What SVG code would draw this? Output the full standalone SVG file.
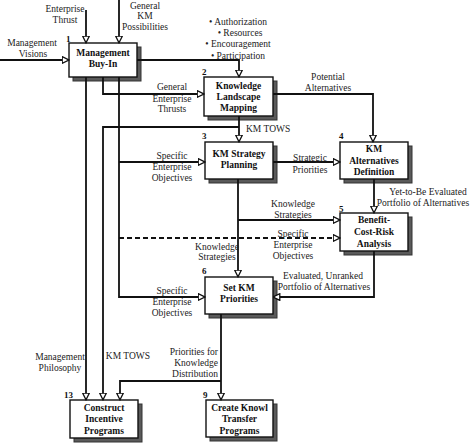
<svg xmlns="http://www.w3.org/2000/svg" width="474" height="443" viewBox="0 0 474 443">
<style>
.lbl{font-family:"Liberation Serif","Times New Roman",serif;font-size:9.5px;fill:#222;text-anchor:middle}
.ttl{font-family:"Liberation Serif","Times New Roman",serif;font-size:9.5px;font-weight:bold;fill:#111;text-anchor:middle}
.num{font-family:"Liberation Serif","Times New Roman",serif;font-size:9px;font-weight:bold;fill:#111}
.box{fill:#fff;stroke:#111;stroke-width:1.4}
.shd{fill:#5a5a5a;stroke:#333;stroke-width:1}
.ln{fill:none;stroke:#111;stroke-width:1.8}
.dash{stroke-dasharray:5,3}
</style>
<defs>
<marker id="arr" viewBox="0 0 8 8" refX="7.5" refY="4" markerWidth="8" markerHeight="8" markerUnits="userSpaceOnUse" orient="auto">
<path d="M0.7,0.7 L7.3,4 L0.7,7.3 z" fill="#fff" stroke="#111" stroke-width="1.3"/>
</marker>
</defs>
<rect width="474" height="443" fill="#fff"/>

<g id="n1"><rect class="shd" x="73" y="47" width="68" height="34"/><rect class="box" x="69" y="43" width="68" height="34"/><text class="num" x="66" y="42">1</text><text class="ttl" x="103" y="56">Management</text><text class="ttl" x="103" y="67">Buy-In</text></g>
<g id="n2"><rect class="shd" x="208" y="81" width="69" height="39"/><rect class="box" x="204" y="77" width="69" height="39"/><text class="num" x="202" y="75">2</text><text class="ttl" x="238.5" y="89">Knowledge</text><text class="ttl" x="238.5" y="100">Landscape</text><text class="ttl" x="238.5" y="111">Mapping</text></g>
<g id="n3"><rect class="shd" x="209" y="146" width="68" height="37"/><rect class="box" x="205" y="142" width="68" height="37"/><text class="num" x="202" y="139">3</text><text class="ttl" x="239" y="157">KM Strategy</text><text class="ttl" x="239" y="168">Planning</text></g>
<g id="n4"><rect class="shd" x="344" y="146" width="68" height="37"/><rect class="box" x="340" y="142" width="68" height="37"/><text class="num" x="339" y="139">4</text><text class="ttl" x="374" y="152">KM</text><text class="ttl" x="374" y="164">Alternatives</text><text class="ttl" x="374" y="175">Definition</text></g>
<g id="n5"><rect class="shd" x="344" y="217" width="68" height="38"/><rect class="box" x="340" y="213" width="68" height="38"/><text class="num" x="339" y="212">5</text><text class="ttl" x="374" y="223">Benefit-</text><text class="ttl" x="374" y="235">Cost-Risk</text><text class="ttl" x="374" y="247">Analysis</text></g>
<g id="n6"><rect class="shd" x="209" y="281" width="68" height="37"/><rect class="box" x="205" y="277" width="68" height="37"/><text class="num" x="202" y="274">6</text><text class="ttl" x="239" y="291">Set KM</text><text class="ttl" x="239" y="302">Priorities</text></g>
<g id="n9"><rect class="shd" x="210" y="404" width="67" height="37"/><rect class="box" x="206" y="400" width="67" height="37"/><text class="num" x="203" y="398">9</text><text class="ttl" x="239.5" y="411">Create Knowl</text><text class="ttl" x="239.5" y="422">Transfer</text><text class="ttl" x="239.5" y="434">Programs</text></g>
<g id="n13"><rect class="shd" x="74" y="404" width="68" height="38"/><rect class="box" x="70" y="400" width="68" height="38"/><text class="num" x="64" y="398">13</text><text class="ttl" x="104" y="411">Construct</text><text class="ttl" x="104" y="422">Incentive</text><text class="ttl" x="104" y="434">Programs</text></g>

<g id="connectors">
<path class="ln" d="M86,10 V43" marker-end="url(#arr)"/>
<path class="ln" d="M119,0 V43" marker-end="url(#arr)"/>
<path class="ln" d="M0,60 H69" marker-end="url(#arr)"/>
<path class="ln" d="M137,60 H239 V77" marker-end="url(#arr)"/>
<path class="ln" d="M103,77 V94 H204" marker-end="url(#arr)"/>
<path class="ln" d="M86,77 V400" marker-end="url(#arr)"/>
<path class="ln" d="M119,77 V297 H205" marker-end="url(#arr)"/>
<path class="ln" d="M119,162 H205" marker-end="url(#arr)"/>
<path class="ln dash" d="M119,238 H340" marker-end="url(#arr)"/>
<path class="ln" d="M239,116 V142" marker-end="url(#arr)"/>
<path class="ln" d="M239,127 H103 V400" marker-end="url(#arr)"/>
<path class="ln" d="M273,94 H373 V142" marker-end="url(#arr)"/>
<path class="ln" d="M273,162 H340" marker-end="url(#arr)"/>
<path class="ln" d="M238,179 V277" marker-end="url(#arr)"/>
<path class="ln" d="M238,220 H340" marker-end="url(#arr)"/>
<path class="ln" d="M374,179 V213" marker-end="url(#arr)"/>
<path class="ln" d="M374,251 V297 H273" marker-end="url(#arr)"/>
<path class="ln" d="M221,314 V400" marker-end="url(#arr)"/>
<path class="ln" d="M221,381 H120 V400" marker-end="url(#arr)"/>
</g>

<g id="labels">
<text class="lbl" x="65" y="12">Enterprise</text>
<text class="lbl" x="65" y="23">Thrust</text>
<text class="lbl" x="145" y="9">General</text>
<text class="lbl" x="145" y="19">KM</text>
<text class="lbl" x="145" y="30">Possibilities</text>
<text class="lbl" x="32" y="46">Management</text>
<text class="lbl" x="33" y="57">Visions</text>
<text class="lbl" x="238" y="25">• Authorization</text>
<text class="lbl" x="240" y="36">• Resources</text>
<text class="lbl" x="238" y="47">• Encouragement</text>
<text class="lbl" x="238" y="59">• Participation</text>
<text class="lbl" x="172" y="90">General</text>
<text class="lbl" x="172" y="102">Enterprise</text>
<text class="lbl" x="172" y="112">Thrusts</text>
<text class="lbl" x="328" y="80">Potential</text>
<text class="lbl" x="328" y="91">Alternatives</text>
<text class="lbl" x="246" y="132" style="text-anchor:start">KM TOWS</text>
<text class="lbl" x="172" y="159">Specific</text>
<text class="lbl" x="172" y="170">Enterprise</text>
<text class="lbl" x="172" y="181">Objectives</text>
<text class="lbl" x="310" y="161">Strategic</text>
<text class="lbl" x="310" y="173">Priorities</text>
<text class="lbl" x="428" y="195">Yet-to-Be Evaluated</text>
<text class="lbl" x="423" y="206">Portfolio of Alternatives</text>
<text class="lbl" x="293" y="207">Knowledge</text>
<text class="lbl" x="293" y="218">Strategies</text>
<text class="lbl" x="293" y="237">Specific</text>
<text class="lbl" x="293" y="248">Enterprise</text>
<text class="lbl" x="293" y="259">Objectives</text>
<text class="lbl" x="217" y="250">Knowledge</text>
<text class="lbl" x="217" y="260">Strategies</text>
<text class="lbl" x="323" y="279">Evaluated, Unranked</text>
<text class="lbl" x="324" y="290">Portfolio of Alternatives</text>
<text class="lbl" x="172" y="294">Specific</text>
<text class="lbl" x="172" y="305">Enterprise</text>
<text class="lbl" x="172" y="316">Objectives</text>
<text class="lbl" x="60" y="360">Management</text>
<text class="lbl" x="60" y="371">Philosophy</text>
<text class="lbl" x="128" y="359">KM TOWS</text>
<text class="lbl" x="218" y="355" style="text-anchor:end">Priorities for</text>
<text class="lbl" x="218" y="366" style="text-anchor:end">Knowledge</text>
<text class="lbl" x="218" y="377" style="text-anchor:end">Distribution</text>
</g>
</svg>
